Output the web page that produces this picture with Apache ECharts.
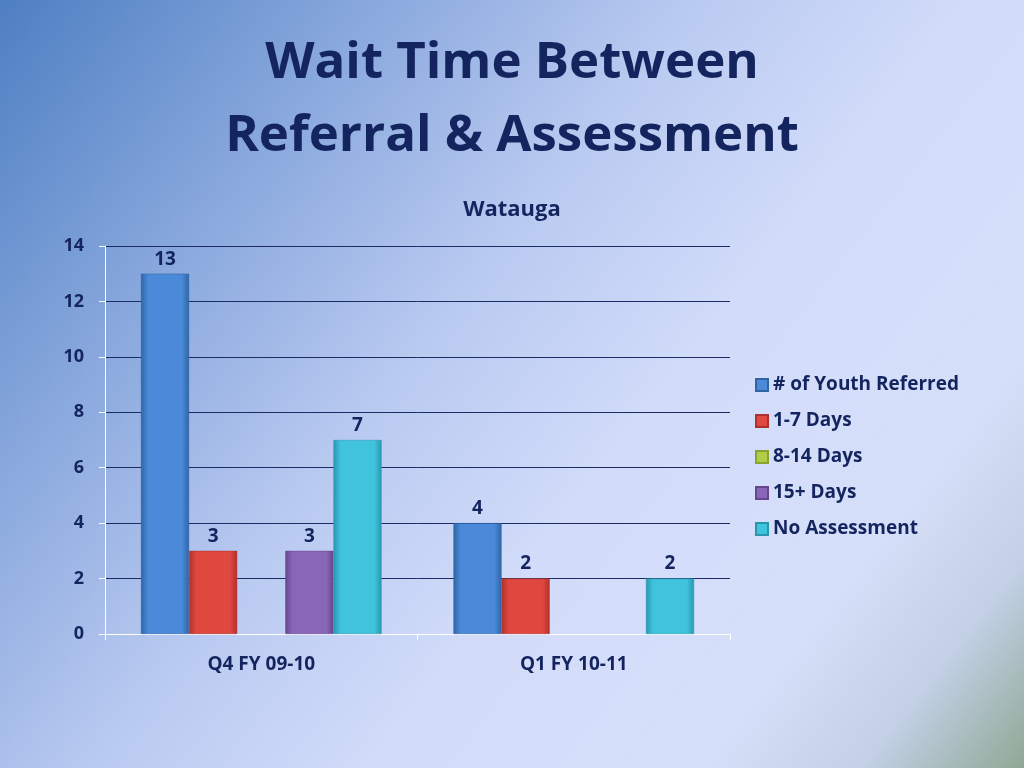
<!DOCTYPE html>
<html>
<head>
<meta charset="utf-8">
<script src="https://cdn.jsdelivr.net/npm/echarts@6/dist/echarts.min.js"></script>
<style>
html, body { margin: 0; padding: 0; }
body {
    width: 1024px; height: 768px; overflow: hidden;
    background: linear-gradient(128deg, #4e7fc2 0%, #86a6dc 22%, #b8c9f0 42%, #d2dcfa 60%, #d6dff9 80%, #c3d0e6 90%, #8fa894 100%);
}
#chart { width: 1024px; height: 768px; }
</style>
</head>
<body>
<div id="chart"></div>
<script>
//分类
var categories = ['Q4 FY 09-10', 'Q1 FY 10-11'];
//各系列数据
var youthReferred = [13, 4];
var days1to7 = [3, 2];
var days8to14 = [null, null];
var days15plus = [3, null];
var noAssessment = [7, 2];
var yTicks = [0, 2, 4, 6, 8, 10, 12, 14];

var seriesNames = ['# of Youth Referred', '1-7 Days', '8-14 Days', '15+ Days', 'No Assessment'];
var seriesData = [youthReferred, days1to7, days8to14, days15plus, noAssessment];
var colors = [
    ['#4a8ad8', '#2f64a6'],
    ['#e0483f', '#b0302c'],
    ['#b0cc48', '#88a42e'],
    ['#8a66b8', '#66468e'],
    ['#40c4de', '#2a96ae']
];
var navy = '#14245e';

//生成柱子系列
var series = [];
for (var i = 0; i < seriesNames.length; i++) {
    series.push({
        name: seriesNames[i],
        type: 'bar',
        data: seriesData[i],
        barGap: 0,
        barCategoryGap: '23%',
        itemStyle: {
            color: new echarts.graphic.LinearGradient(0, 0, 1, 0, [
                { offset: 0, color: colors[i][1] },
                { offset: 0.15, color: colors[i][0] },
                { offset: 0.85, color: colors[i][0] },
                { offset: 1, color: colors[i][1] }
            ]),
            borderColor: colors[i][1],
            borderWidth: 0.5
        },
        label: {
            show: true,
            position: 'top',
            distance: 5,
            color: navy,
            fontFamily: 'Open Sans',
            fontWeight: 'bold',
            fontSize: 19
        }
    });
}

var chart = echarts.init(document.getElementById('chart'));
chart.setOption({
    backgroundColor: 'transparent',
    animation: false,
    title: [{
        text: 'Wait Time Between\nReferral & Assessment',
        left: 'center',
        top: 22,
        textStyle: {
            color: navy,
            fontFamily: 'Open Sans',
            fontWeight: 'bold',
            fontSize: 51,
            lineHeight: 73
        }
    }, {
        text: 'Watauga',
        left: 'center',
        top: 194,
        textStyle: {
            color: navy,
            fontFamily: 'Open Sans',
            fontWeight: 'bold',
            fontSize: 22
        }
    }],
    legend: {
        orient: 'vertical',
        left: 750,
        top: 368,
        itemWidth: 12,
        itemHeight: 12,
        itemGap: 12,
        icon: 'rect',
        data: seriesNames,
        textStyle: {
            color: navy,
            fontFamily: 'Open Sans',
            fontWeight: 'bold',
            fontSize: 19,
            lineHeight: 24
        }
    },
    grid: { left: 105, right: 294, top: 246, bottom: 134 },
    xAxis: {
        type: 'category',
        data: categories,
        axisLine: { lineStyle: { color: '#ffffff', width: 1 } },
        axisTick: { show: true, length: 6, lineStyle: { color: '#ffffff' } },
        axisLabel: {
            color: navy,
            fontFamily: 'Open Sans',
            fontWeight: 'bold',
            fontSize: 19,
            margin: 21
        }
    },
    yAxis: {
        type: 'value',
        min: yTicks[0],
        max: yTicks[yTicks.length - 1],
        interval: 2,
        axisLine: { show: true, lineStyle: { color: '#ffffff', width: 1 } },
        axisTick: { show: true, length: 6, lineStyle: { color: '#ffffff' } },
        splitLine: { lineStyle: { color: '#1c2c64', width: 1 } },
        axisLabel: {
            color: navy,
            fontFamily: 'Open Sans',
            fontWeight: 'bold',
            fontSize: 18,
            margin: 21
        }
    },
    series: series
});
</script>
</body>
</html>
